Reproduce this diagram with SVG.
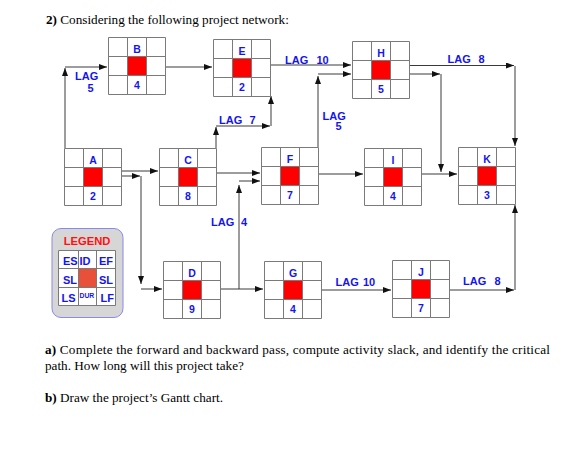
<svg xmlns="http://www.w3.org/2000/svg" width="583" height="454" viewBox="0 0 583 454">
<style>
.bg{fill:#ffffff}
.grid{fill:none;stroke:#7a7a7a;stroke-width:1}
.red{fill:#ff0000}
.lbl{font-family:"Liberation Sans",Arial,sans-serif;font-weight:bold;font-size:10.5px;fill:#1414f0;text-anchor:middle}
.lag{font-family:"Liberation Sans",Arial,sans-serif;font-weight:bold;font-size:11px;fill:#1414f0}
.body{font-family:"Liberation Serif","Times New Roman",serif;font-size:13.2px;fill:#000}
.conn{fill:none;stroke:#3a3a3a;stroke-width:1}
.legend-box{fill:#d6d6d6;stroke:#8888ee;stroke-width:1}
.leg{font-family:"Liberation Sans",Arial,sans-serif;font-weight:bold;font-size:11px;fill:#1414f0}
</style>
<defs>
<marker id="ah" markerUnits="userSpaceOnUse" markerWidth="8" markerHeight="6" refX="8" refY="3" orient="auto">
<path d="M0,0 L8,3 L0,6 Z" fill="#111"/>
</marker>
<g id="cell">
<rect class="red" x="19" y="19" width="19" height="19"/>
<path class="grid" d="M0.5,0.5 H57.5 V57.5 H0.5 Z M19.5,0.5 V57.5 M38.5,0.5 V57.5 M0.5,19.5 H57.5 M0.5,38.5 H57.5"/>
</g>
</defs>
<rect class="bg" x="0" y="0" width="583" height="454"/>

<text class="body" x="46" y="24"><tspan font-weight="bold">2)</tspan> Considering the following project network:</text>

<g id="connectors">
<path class="conn" d="M65,148 V68" marker-end="url(#ah)"/>
<path class="conn" d="M65,67 H107" marker-end="url(#ah)"/>
<path class="conn" d="M166,67 H212" marker-end="url(#ah)"/>
<path class="conn" d="M271,65 H351" marker-end="url(#ah)"/>
<path class="conn" d="M216,148 V127" marker-end="url(#ah)"/>
<path class="conn" d="M216,126 H270" marker-end="url(#ah)"/>
<path class="conn" d="M271,126 V96" marker-end="url(#ah)"/>
<path class="conn" d="M318,147 V76" marker-end="url(#ah)"/>
<path class="conn" d="M318,74 H351" marker-end="url(#ah)"/>
<path class="conn" d="M409,65.5 H514" marker-end="url(#ah)"/>
<path class="conn" d="M515,66 V146" marker-end="url(#ah)"/>
<path class="conn" d="M409,74 H440" marker-end="url(#ah)"/>
<path class="conn" d="M441,74 V172" marker-end="url(#ah)"/>
<path class="conn" d="M421,174 H457" marker-end="url(#ah)"/>
<path class="conn" d="M318,174 H363" marker-end="url(#ah)"/>
<path class="conn" d="M122,171 H158" marker-end="url(#ah)"/>
<path class="conn" d="M122,176 H140" marker-end="url(#ah)"/>
<path class="conn" d="M141,176 V284" marker-end="url(#ah)"/>
<path class="conn" d="M141,289 H162" marker-end="url(#ah)"/>
<path class="conn" d="M217,173 H260" marker-end="url(#ah)"/>
<path class="conn" d="M239,289 V185" marker-end="url(#ah)"/>
<path class="conn" d="M239,181 H260" marker-end="url(#ah)"/>
<path class="conn" d="M220,289 H263" marker-end="url(#ah)"/>
<path class="conn" d="M322,290 H391" marker-end="url(#ah)"/>
<path class="conn" d="M449,290 H514" marker-end="url(#ah)"/>
<path class="conn" d="M515,290 V205" marker-end="url(#ah)"/>
</g>

<g id="lags">
<text class="lag" x="75" y="80">LAG</text>
<text class="lag" x="87.5" y="91.5">5</text>
<text class="lag" x="285" y="64">LAG<tspan x="316.5">10</tspan></text>
<text class="lag" x="219" y="124">LAG<tspan x="249.5">7</tspan></text>
<text class="lag" x="447.5" y="63">LAG<tspan x="478.5">8</tspan></text>
<text class="lag" x="322.5" y="119.5">LAG</text>
<text class="lag" x="335.5" y="130">5</text>
<text class="lag" x="211" y="225.5">LAG<tspan x="241">4</tspan></text>
<text class="lag" x="335.5" y="286">LAG<tspan x="363">10</tspan></text>
<text class="lag" x="463" y="284.5">LAG<tspan x="494.5">8</tspan></text>
</g>

<g id="node-B" transform="translate(108,37)"><use href="#cell"/><text class="lbl" x="29" y="16.3">B</text><text class="lbl" x="29" y="51.5">4</text></g>
<g id="node-E" transform="translate(213,39)"><use href="#cell"/><text class="lbl" x="29" y="16.3">E</text><text class="lbl" x="29" y="51.5">2</text></g>
<g id="node-H" transform="translate(352,41)"><use href="#cell"/><text class="lbl" x="29" y="16.3">H</text><text class="lbl" x="29" y="51.5">5</text></g>
<g id="node-A" transform="translate(64,148)"><use href="#cell"/><text class="lbl" x="29" y="16.3">A</text><text class="lbl" x="29" y="51.5">2</text></g>
<g id="node-C" transform="translate(159,148)"><use href="#cell"/><text class="lbl" x="29" y="16.3">C</text><text class="lbl" x="29" y="51.5">8</text></g>
<g id="node-F" transform="translate(261,147)"><use href="#cell"/><text class="lbl" x="29" y="16.3">F</text><text class="lbl" x="29" y="51.5">7</text></g>
<g id="node-I" transform="translate(364,148)"><use href="#cell"/><text class="lbl" x="29" y="16.3">I</text><text class="lbl" x="29" y="51.5">4</text></g>
<g id="node-K" transform="translate(458,147)"><use href="#cell"/><text class="lbl" x="29" y="16.3">K</text><text class="lbl" x="29" y="51.5">3</text></g>
<g id="node-D" transform="translate(163,261)"><use href="#cell"/><text class="lbl" x="29" y="16.3">D</text><text class="lbl" x="29" y="51.5">9</text></g>
<g id="node-G" transform="translate(264,261)"><use href="#cell"/><text class="lbl" x="29" y="16.3">G</text><text class="lbl" x="29" y="51.5">4</text></g>
<g id="node-J" transform="translate(392,260)"><use href="#cell"/><text class="lbl" x="29" y="16.3">J</text><text class="lbl" x="29" y="51.5">7</text></g>

<g id="legend">
<rect class="legend-box" x="52" y="228.5" width="71" height="89" rx="9"/>
<text x="87" y="245" font-family="Liberation Sans, Arial, sans-serif" font-weight="bold" font-size="11.2px" fill="#ff1010" text-anchor="middle">LEGEND</text>
<rect x="58" y="250" width="57" height="55" fill="#ffffff"/>
<rect x="78" y="268" width="18" height="19" fill="#e8503a"/>
<path class="grid" d="M58.5,250.5 H115.5 V305.5 H58.5 Z M78.5,250.5 V305.5 M96.5,250.5 V305.5 M58.5,268.5 H115.5 M58.5,287.5 H115.5"/>
<text class="leg" x="63" y="264.5">ES</text>
<text class="leg" x="79.5" y="264.5">ID</text>
<text class="leg" x="99" y="264.5">EF</text>
<text class="leg" x="63" y="283.5">SL</text>
<text class="leg" x="99" y="283.5">SL</text>
<text class="leg" x="61.5" y="302">LS</text>
<text x="79.5" y="297.5" font-family="Liberation Sans, Arial, sans-serif" font-weight="bold" font-size="6.8px" fill="#1414f0">DUR</text>
<text class="leg" x="100.5" y="302">LF</text>
</g>

<text class="body" x="45" y="354" textLength="505" lengthAdjust="spacing"><tspan font-weight="bold">a)</tspan> Complete the forward and backward pass, compute activity slack, and identify the critical</text>
<text class="body" x="45" y="370">path. How long will this project take?</text>
<text class="body" x="45" y="402"><tspan font-weight="bold">b)</tspan> Draw the project’s Gantt chart.</text>
</svg>
